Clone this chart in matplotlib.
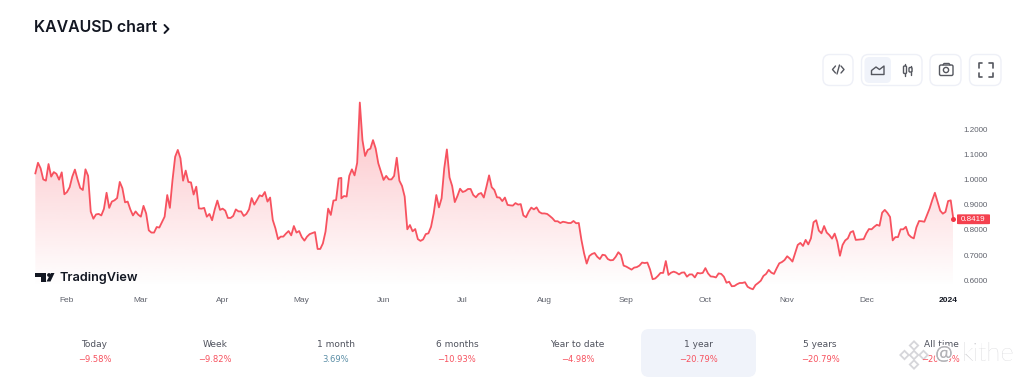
import numpy as np
import pandas as pd
import matplotlib
matplotlib.use("Agg")
import matplotlib.pyplot as plt
from matplotlib.patches import FancyBboxPatch, Polygon, Circle
import matplotlib.patheffects as pe

# ---- data -------------------------------------------------------------
prices_jan_may = [1.024, 1.066, 1.044, 1.000, 0.995, 1.061, 1.011, 1.029, 1.022, 0.999, 1.028, 0.941, 0.950, 0.969,
                  1.011, 1.039, 1.000, 0.966, 0.958, 1.040, 1.014, 0.872, 0.844, 0.861, 0.863, 0.857, 0.883, 0.947,
                  0.887, 0.912, 0.917, 0.926, 0.990, 0.965, 0.909, 0.912, 0.881, 0.857, 0.873, 0.860, 0.852, 0.895,
                  0.865, 0.798, 0.789, 0.789, 0.811, 0.809, 0.831, 0.852, 0.938, 0.887, 0.998, 1.090, 1.117, 1.084,
                  0.995, 1.035, 0.990, 0.988, 0.940, 0.971, 0.885, 0.884, 0.887, 0.852, 0.863, 0.838, 0.881, 0.916,
                  0.879, 0.884, 0.876, 0.847, 0.847, 0.855, 0.881, 0.873, 0.873, 0.855, 0.863, 0.881, 0.926, 0.900,
                  0.918, 0.937, 0.933, 0.950, 0.912, 0.928, 0.839, 0.806, 0.763, 0.773, 0.773, 0.785, 0.795, 0.778,
                  0.815, 0.789, 0.795, 0.771, 0.757, 0.773, 0.783, 0.787, 0.791, 0.724, 0.724, 0.746, 0.793, 0.884,
                  0.859, 0.916, 0.918, 1.004, 1.006]
prices_may_sep = [0.925, 0.934, 0.932, 1.014, 1.040, 1.016, 1.066, 1.305, 1.156, 1.093, 1.117, 1.122, 1.156, 1.123,
                  1.064, 1.031, 0.998, 1.014, 1.000, 1.000, 1.014, 1.086, 0.995, 0.974, 0.932, 0.802, 0.819, 0.794,
                  0.803, 0.763, 0.756, 0.762, 0.783, 0.786, 0.812, 0.865, 0.938, 0.889, 0.925, 1.044, 1.119, 1.008,
                  0.974, 0.910, 0.934, 0.963, 0.950, 0.954, 0.962, 0.962, 0.938, 0.929, 0.942, 0.946, 0.928, 0.971,
                  1.016, 0.969, 0.958, 0.929, 0.928, 0.914, 0.928, 0.899, 0.897, 0.896, 0.906, 0.900, 0.902, 0.857,
                  0.850, 0.872, 0.888, 0.881, 0.889, 0.871, 0.865, 0.865, 0.863, 0.855, 0.846, 0.834, 0.834, 0.827,
                  0.832, 0.830, 0.827, 0.827, 0.835, 0.826, 0.827, 0.760, 0.707, 0.666, 0.696, 0.704, 0.708, 0.693,
                  0.684, 0.701, 0.699, 0.684, 0.679, 0.680, 0.693, 0.711, 0.700, 0.658, 0.654, 0.648, 0.642, 0.650,
                  0.652, 0.658, 0.670, 0.668, 0.670, 0.643, 0.604, 0.607, 0.617, 0.629, 0.629, 0.676, 0.621, 0.630]
prices_sep_jan = [0.634, 0.630, 0.623, 0.630, 0.631, 0.614, 0.623, 0.623, 0.611, 0.629, 0.627, 0.629, 0.648, 0.627,
                  0.615, 0.614, 0.611, 0.627, 0.625, 0.614, 0.590, 0.594, 0.576, 0.577, 0.584, 0.589, 0.589, 0.592,
                  0.574, 0.568, 0.564, 0.581, 0.589, 0.598, 0.617, 0.625, 0.641, 0.630, 0.625, 0.647, 0.667, 0.672,
                  0.680, 0.695, 0.686, 0.674, 0.707, 0.740, 0.748, 0.736, 0.760, 0.742, 0.766, 0.830, 0.838, 0.797,
                  0.786, 0.815, 0.789, 0.779, 0.765, 0.785, 0.753, 0.697, 0.740, 0.758, 0.766, 0.790, 0.795, 0.760,
                  0.761, 0.762, 0.763, 0.786, 0.803, 0.802, 0.812, 0.820, 0.816, 0.868, 0.879, 0.867, 0.851, 0.758,
                  0.771, 0.771, 0.802, 0.802, 0.812, 0.781, 0.771, 0.766, 0.810, 0.835, 0.834, 0.832, 0.859, 0.885,
                  0.918, 0.947, 0.912, 0.876, 0.864, 0.871, 0.914, 0.917, 0.8419]
segment_starts = ["2023-01-20", "2023-05-16", "2023-09-19"]
month_dates = ["2023-02-01", "2023-03-01", "2023-04-01", "2023-05-01", "2023-06-01", "2023-07-01",
               "2023-08-01", "2023-09-01", "2023-10-01", "2023-11-01", "2023-12-01", "2024-01-01"]
month_labels = ["Feb", "Mar", "Apr", "May", "Jun", "Jul", "Aug", "Sep", "Oct", "Nov", "Dec", "2024"]
price_ticks = [0.6, 0.7, 0.8, 0.9, 1.0, 1.1, 1.2]
periods = ["Today", "Week", "1 month", "6 months", "Year to date", "1 year", "5 years", "All time"]
changes = [-9.58, -9.82, 3.69, -10.93, -4.98, -20.79, -20.79, -20.79]

RED = "#F7525F"
GRAY = "#5F626C"
DARK = "#131722"
W, H = 1024, 381
TICK_FONT = "Liberation Sans"

# ---- figure -------------------------------------------------------------
fig = plt.figure(figsize=(W / 100, H / 100), dpi=100, facecolor="white")
L, R, T, B = 34, 953, 90, 295
ax = fig.add_axes([L / W, 1 - B / H, (R - L) / W, (B - T) / H])
ax.patch.set_alpha(0)
origin = pd.Timestamp("2023-02-01")


def offs(dates):
    return np.asarray((pd.DatetimeIndex(dates) - origin).days, dtype=float)


xs, ys = [], []
for start, seg in zip(segment_starts, [prices_jan_may, prices_may_sep, prices_sep_jan]):
    xs.append(offs(pd.date_range(start, periods=len(seg), freq="D")))
    ys.append(np.asarray(seg))
x = np.concatenate(xs)
y = np.concatenate(ys)

base = 0.572

# gradient fill
grad_h = 256
rgba = np.ones((grad_h, 1, 4))
rgba[..., 0] = 0xF7 / 255
rgba[..., 1] = 0x40 / 255
rgba[..., 2] = 0x50 / 255
rgba[..., 3] = np.linspace(0.33, 0.0, grad_h)[:, None]
im = ax.imshow(rgba, extent=(x[0], x[-1], base, y.max()), aspect="auto", zorder=1, origin="upper",
               interpolation="bilinear")
ax.set_xlim(-12.51, 335.86)
ax.set_ylim(0.5413, 1.3548)
poly = Polygon(np.column_stack([np.r_[x, x[-1], x[0]], np.r_[y, base, base]]), closed=True,
               transform=ax.transData, fc="none", ec="none")
ax.add_patch(poly)
im.set_clip_path(poly)

ax.plot(x, y, color=RED, lw=1.3, zorder=3, solid_joinstyle="round", clip_on=False)
ax.plot(x[-1], y[-1], "o", color="#F23645", ms=3.6, mew=0, zorder=4, clip_on=False)

for s in ax.spines.values():
    s.set_visible(False)
ax.yaxis.tick_right()
ax.set_yticks(price_ticks, [f"{v:.4f}" for v in price_ticks])
ax.set_xticks(offs(month_dates), month_labels)
ax.tick_params(axis="y", length=0, pad=7.8, labelsize=5.8, labelcolor=GRAY)
ax.tick_params(axis="x", length=0, pad=1.5, labelsize=6.0, labelcolor=GRAY)
for lb in ax.get_xticklabels() + ax.get_yticklabels():
    lb.set_family(TICK_FONT)
lab = ax.get_xticklabels()[-1]
lab.set_color(DARK)
lab.set_fontweight("bold")

# current value tag
tr = ax.get_yaxis_transform()
ax.add_patch(FancyBboxPatch((1 + 4 / (R - L), y[-1] - 0.0195), 33 / (R - L), 0.039,
                            boxstyle="round,pad=0,rounding_size=0.002", transform=tr,
                            fc="#F4414F", ec="none", clip_on=False, mutation_aspect=1, zorder=5))
ax.text(1 + 20.5 / (R - L), y[-1], f"{y[-1]:.4f}", transform=tr, color="white", fontsize=5.8,
        family=TICK_FONT, ha="center", va="center", zorder=6)

# ---- overlay in pixel space (page furniture) ----------------------------
ov = fig.add_axes([0, 0, 1, 1], zorder=5)
ov.set_xlim(0, W)
ov.set_ylim(H, 0)
ov.axis("off")
ov.patch.set_alpha(0)

ov.text(34, 28, "KAVAUSD chart", family="Inter", weight="semibold", fontsize=11.45, color=DARK, va="center", ha="left")
ov.plot([164.5, 168.5, 164.5], [25, 29, 33], color=DARK, lw=1.4, solid_capstyle="round", solid_joinstyle="round")


def rbox(x0, y0, x1, y1, r=7, fc="none", ec="#EEF0F7", lw=1.0, z=1):
    ov.add_patch(FancyBboxPatch((x0, y0), x1 - x0, y1 - y0, boxstyle=f"round,pad=0,rounding_size={r}",
                                fc=fc, ec=ec, lw=lw, zorder=z))


# toolbar
rbox(823, 54.5, 853, 85.5)
rbox(861.5, 54.5, 922, 85.5)
rbox(864.5, 57, 891, 83, r=5, fc="#F0F3FA", ec="none")
rbox(930, 54.5, 961, 85.5)
rbox(969.5, 54.5, 1001, 85.5)
ic = "#55575F"
kw = dict(color=ic, lw=1.0, solid_capstyle="round", solid_joinstyle="round", zorder=3)
ov.plot([835.5, 832.5, 835.5], [66, 69.5, 73], **kw)
ov.plot([841, 844, 841], [66, 69.5, 73], **kw)
ov.plot([839.5, 837], [65, 74], **kw)
ov.plot([871.5, 871.5, 876, 879.5, 884, 884, 871.5], [74.5, 70.5, 67, 69.5, 66, 74.5, 74.5], **kw)
ov.plot([905, 905], [64, 76], **kw)
ov.plot([910.5, 910.5], [65.5, 74.5], **kw)
ov.add_patch(FancyBboxPatch((903.5, 66), 3, 7.5, boxstyle="round,pad=0,rounding_size=1", fc="white", ec=ic, lw=1, zorder=4))
ov.add_patch(FancyBboxPatch((909, 67.5), 3, 4.5, boxstyle="round,pad=0,rounding_size=1", fc="white", ec=ic, lw=1, zorder=4))
rbox(939.5, 65, 953, 75.5, r=1.5, ec=ic, lw=1.0, z=3)
ov.plot([943, 944, 949, 950], [65, 63.5, 63.5, 65], **kw)
ov.add_patch(Circle((946, 70), 2.6, fc="none", ec=ic, lw=1.0, zorder=3))
for sx, sy in [(-1, -1), (1, -1), (-1, 1), (1, 1)]:
    cx, cy = 985.5, 70
    ov.plot([cx + sx * 7, cx + sx * 7, cx + sx * 3.5], [cy + sy * 2.5, cy + sy * 7, cy + sy * 7],
            color=ic, lw=1.2, solid_capstyle="round", zorder=3)

# TradingView logo
ov.add_patch(Polygon([(35, 273), (45.7, 273), (45.7, 281.5), (40.5, 281.5), (40.5, 277), (35, 277)], fc=DARK, ec="none", zorder=6))
ov.add_patch(Circle((49, 275), 1.9, fc=DARK, ec="none", zorder=6))
ov.add_patch(Polygon([(50.5, 281.5), (54.5, 273), (51, 273), (46.5, 281.5)], fc=DARK, ec="none", zorder=6))
ov.text(60, 278.3, "TradingView", family="Inter", weight="semibold", fontsize=9.15, color=DARK, va="center", ha="left", zorder=6)

# watermark logo, underneath the period text
wm = "#D6D6DA"
for dx, dy, s in [(0, -9.5, 4.2), (-9.5, 0, 4.2), (9.5, 0, 4.2), (0, 9.5, 4.2), (0, 0, 4.2)]:
    cx, cy = 914 + dx, 355 + dy
    ov.add_patch(Polygon([(cx, cy - s), (cx + s, cy), (cx, cy + s), (cx - s, cy)], fc="white", ec=wm, lw=1.3, zorder=1.5))

# period strip
centers = [94.5, 215, 336, 457, 577.5, 698, 820, 941]
rbox(641, 329, 756, 377, r=8, fc="#F0F3FA", ec="none", z=0)
for cx, name, val in zip(centers, periods, changes):
    ov.text(cx, 344.5, name, ha="center", va="center", fontsize=6.5, color="#50535E", zorder=2)
    txt = f"\u2212{abs(val):.2f}%" if val < 0 else f"{val:.2f}%"
    col = "#F7525F" if val < 0 else "#5B8EA6"
    ov.text(cx, 359.5, txt, ha="center", va="center", fontsize=6.0, color=col, zorder=2)

# watermark text
ov.text(944, 355, "@", family="Open Sans", fontsize=14, color="#B4B4B8", va="center", ha="center", zorder=7,
        path_effects=[pe.withStroke(linewidth=2.0, foreground="white"), pe.Normal()])
ov.text(962, 354, "kithe", family="Lato", weight="light", fontsize=18.5, color="#C6C6CA", va="center", ha="left", zorder=7)

fig.savefig("out.png", dpi=100, facecolor="white")
